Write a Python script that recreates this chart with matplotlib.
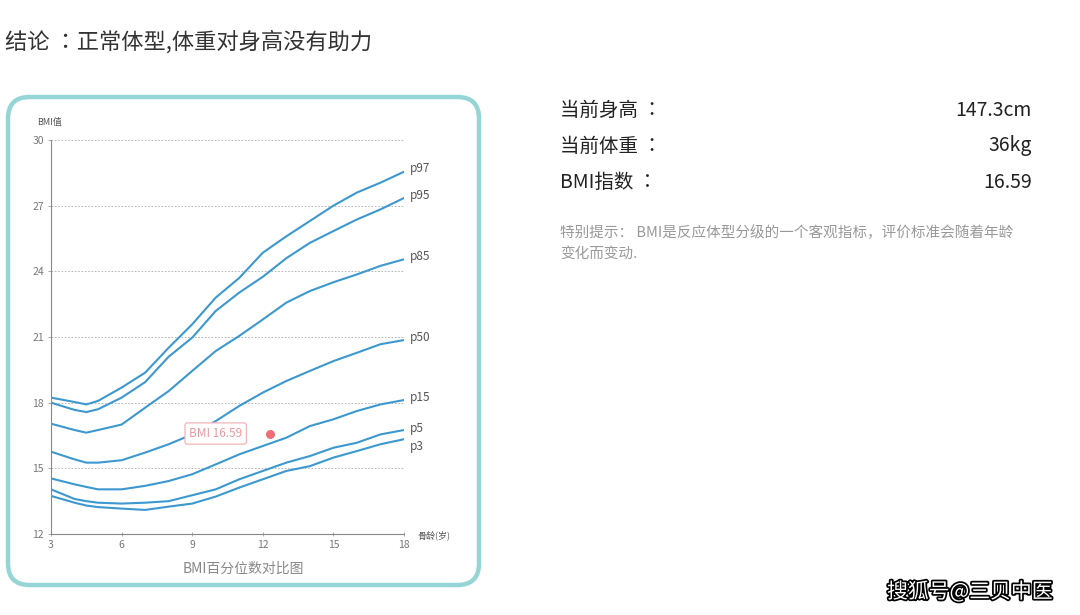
import matplotlib.pyplot as plt
import matplotlib.patheffects as pe
from matplotlib.patches import FancyBboxPatch

plt.rcParams['font.family'] = ['Noto Sans CJK SC', 'DejaVu Sans']

# 数据：年龄（岁）和各百分位 BMI
ages = [3, 4, 4.5, 5, 6, 7, 8, 9, 10, 11, 12, 13, 14, 15, 16, 17, 18]
p97 = [18.23, 18.03, 17.92, 18.08, 18.69, 19.37, 20.51, 21.58, 22.8, 23.7, 24.85, 25.6, 26.3, 27.0, 27.6, 28.05, 28.55]
p95 = [18.0, 17.67, 17.57, 17.7, 18.23, 18.94, 20.1, 20.97, 22.19, 23.03, 23.75, 24.6, 25.3, 25.84, 26.37, 26.83, 27.35]
p85 = [17.04, 16.75, 16.63, 16.75, 17.0, 17.77, 18.53, 19.45, 20.36, 21.05, 21.8, 22.57, 23.1, 23.5, 23.86, 24.25, 24.55]
p50 = [15.76, 15.41, 15.26, 15.26, 15.37, 15.72, 16.1, 16.55, 17.16, 17.85, 18.46, 18.99, 19.45, 19.9, 20.28, 20.67, 20.86]
p15 = [14.54, 14.27, 14.15, 14.04, 14.04, 14.2, 14.42, 14.73, 15.18, 15.64, 16.02, 16.4, 16.93, 17.24, 17.62, 17.92, 18.12]
p5 = [14.04, 13.6, 13.5, 13.43, 13.39, 13.43, 13.5, 13.77, 14.04, 14.5, 14.88, 15.26, 15.56, 15.94, 16.17, 16.55, 16.75]
p3 = [13.74, 13.43, 13.3, 13.23, 13.16, 13.1, 13.25, 13.39, 13.71, 14.12, 14.5, 14.88, 15.1, 15.49, 15.79, 16.1, 16.33]
curves = [('p97', p97), ('p95', p95), ('p85', p85), ('p50', p50), ('p15', p15), ('p5', p5), ('p3', p3)]

cur_age = 12.3
cur_bmi = 16.59

rows = [('当前身高 ：', '147.3cm'), ('当前体重 ：', '36kg'), ('BMI指数 ：', '16.59')]

line_color = '#3c98cf'
tc = ['Noto Sans CJK TC', 'DejaVu Sans']  # 全角冒号居中

fig = plt.figure(figsize=(10.8, 6.15), dpi=100)
fig.patch.set_facecolor('white')

# 外框
box = FancyBboxPatch((8 / 1080, 1 - 585 / 615), 471 / 1080, 488 / 615,
                     boxstyle='round,pad=0,rounding_size=0.02',
                     transform=fig.transFigure, facecolor='none',
                     edgecolor='#95d5d6', linewidth=3.2, mutation_aspect=1.75)
fig.patches.append(box)

ax = fig.add_axes([51 / 1080, 1 - 534 / 615, 353 / 1080, 394 / 615])
ax.set_facecolor('none')
label_dy = {'p5': 1, 'p3': -5}
for name, vals in curves:
    ax.plot(ages, vals, color=line_color, lw=1.5)
    ax.annotate(name, (ages[-1], vals[-1]), xytext=(4, label_dy.get(name, 2)),
                textcoords='offset points', fontsize=8.5, color='#555555',
                va='center', ha='left', annotation_clip=False)

ax.scatter([cur_age], [cur_bmi], s=30, color='#ef6f78', zorder=5)
ax.annotate('BMI 16.59', (cur_age, cur_bmi), xytext=(-39, 0), textcoords='offset points',
            fontsize=8.5, color='#e99a9f', ha='center', va='center',
            bbox=dict(boxstyle='round,pad=0.35,rounding_size=0.2', fc='white', ec='#f2b5b9', lw=0.9))

ax.set_xlim(3, 18)
ax.set_ylim(12, 30)
ax.set_xticks([3, 6, 9, 12, 15, 18])
ax.set_yticks([12, 15, 18, 21, 24, 27, 30])
ax.tick_params(labelsize=7.5, colors='#777777', length=3, width=0.6, pad=3)
ax.tick_params(axis='x', direction='inout', color='#999999')
ax.tick_params(axis='y', direction='out', length=2, color='#999999')
for s in ['top', 'right']:
    ax.spines[s].set_visible(False)
for s in ['left', 'bottom']:
    ax.spines[s].set_color('#888888')
    ax.spines[s].set_linewidth(0.8)
for y in [15, 18, 21, 24, 27, 30]:
    ax.axhline(y, color='#aaaaaa', lw=0.6, ls=(0, (2, 2)), zorder=0)

fig.text(37 / 1080, 1 - 122 / 615, 'BMI值', fontsize=6.5, color='#555555', va='center')
fig.text(417 / 1080, 1 - 535 / 615, '骨龄(岁)', fontsize=6.5, color='#555555', va='center')
fig.text(243 / 1080, 1 - 569 / 615, 'BMI百分位数对比图', fontsize=10, color='#888888',
         ha='center', va='center')

# 顶部结论
fig.text(5 / 1080, 1 - 42 / 615, '结论 ：正常体型,体重对身高没有助力', fontsize=16,
         color='#333333', va='center', family=tc)

# 右侧信息
for i, (k, v) in enumerate(rows):
    y = 1 - (110 + 36 * i) / 615
    fig.text(560 / 1080, y, k, fontsize=14, color='#222222', va='center', family=tc)
    fig.text(1032 / 1080, y, v, fontsize=14, color='#222222', va='center', ha='right')

fig.text(560 / 1080, 1 - 233 / 615, '特别提示： BMI是反应体型分级的一个客观指标，评价标准会随着年龄',
         fontsize=10.5, color='#999999', va='center')
fig.text(560 / 1080, 1 - 254 / 615, '变化而变动.', fontsize=10.5, color='#999999', va='center')

# 水印
fig.text(970 / 1080, 1 - 592 / 615, '搜狐号@三贝中医', fontsize=15, color='white',
         ha='center', va='center',
         path_effects=[pe.withStroke(linewidth=2.5, foreground='black')])

fig.savefig('out.png', dpi=100, facecolor='white')
